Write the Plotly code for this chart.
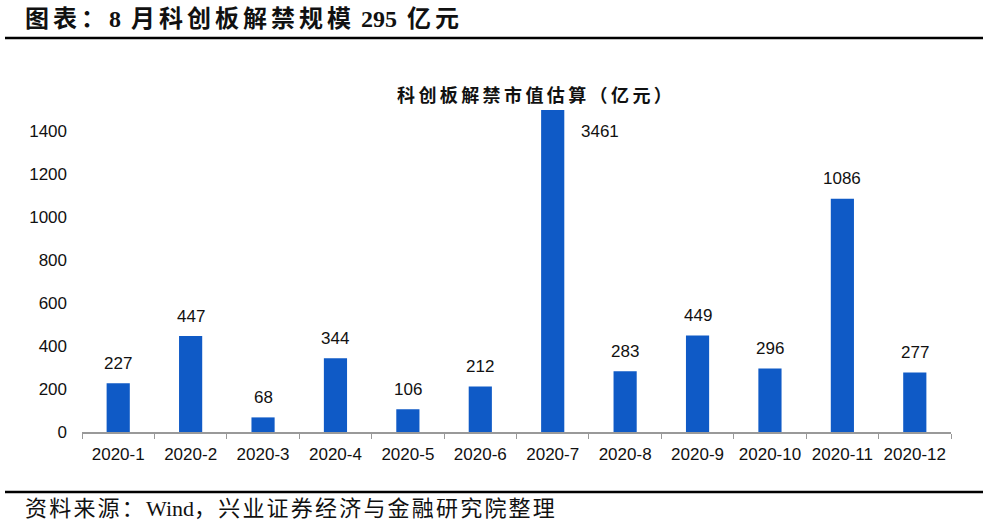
import plotly.graph_objects as go

categories = ["2020-1", "2020-2", "2020-3", "2020-4", "2020-5", "2020-6",
              "2020-7", "2020-8", "2020-9", "2020-10", "2020-11", "2020-12"]
values = [227, 447, 68, 344, 106, 212, 3461, 283, 449, 296, 1086, 277]
y_ticks = [0, 200, 400, 600, 800, 1000, 1200, 1400]
y_max = 1500

bar_color = "#0F5AC6"
serif = "Times New Roman, Liberation Serif, Noto Sans CJK SC"
sans = "Arial, Liberation Sans, Noto Sans CJK SC"
label_font = dict(family=sans, size=17, color="#111")
NB = "\u00a0"


def sp(txt, px):
    return f"<span style='letter-spacing:{px}px'>{txt}</span>"


fig = go.Figure(go.Bar(
    x=categories, y=values, marker_color=bar_color, marker_line_width=0,
    cliponaxis=True,
))

# value labels
for c, v in zip(categories, values):
    if v > y_max:
        fig.add_annotation(x=c, y=1400, text=str(v), showarrow=False,
                           xshift=47, font=label_font)
    else:
        fig.add_annotation(x=c, y=v, text=str(v), showarrow=False,
                           yanchor="middle", yshift=20, font=label_font)

fig.add_annotation(xref="paper", yref="paper", x=0.522, y=1.0, yshift=27,
                   text="<b>" + sp("科创板解禁市值估算（亿元）", 3.4) + "</b>",
                   showarrow=False, font=dict(family=serif, size=18, color="#111"))

header = ("<b>" + sp("图表：", 4) + "8" + sp(NB + "月科创板解禁规模", 4)
          + NB + "295" + sp(NB + "亿元", 4) + "</b>")
fig.add_annotation(xref="paper", yref="paper", x=(23 - 82) / 869, xanchor="left",
                   y=1.0, yshift=110 - 19, yanchor="middle",
                   text=header,
                   showarrow=False, font=dict(family=serif, size=24, color="#111"))

footer = sp("资料来源：", 2.2) + "Wind" + sp("，兴业证券经济与金融研究院整理", 2.2)
fig.add_annotation(xref="paper", yref="paper", x=(23 - 82) / 869, xanchor="left",
                   y=0.0, yshift=-(508 - 432), yanchor="middle",
                   text=footer,
                   showarrow=False, font=dict(family=serif, size=22, color="#111"))

plot_h = 524 - 110 - 92
x0 = (5 - 82) / 869
x1 = (983 - 82) / 869
fig.add_shape(type="line", xref="paper", yref="paper",
              x0=x0, x1=x1, y0=1 + (110 - 38) / plot_h, y1=1 + (110 - 38) / plot_h,
              line=dict(color="#000", width=2.5))
fig.add_shape(type="line", xref="paper", yref="paper",
              x0=x0, x1=x1, y0=-(492 - 432) / plot_h, y1=-(492 - 432) / plot_h,
              line=dict(color="#000", width=2.5))

fig.update_layout(
    width=993, height=524,
    margin=dict(l=82, r=42, t=110, b=92, pad=0),
    plot_bgcolor="white", paper_bgcolor="white",
    bargap=0.68, showlegend=False,
    xaxis=dict(type="category", showline=True, linecolor="#999", linewidth=1.5,
               ticks="outside", tickson="boundaries", ticklen=5, tickcolor="#999",
               ticklabelstandoff=6,
               tickfont=dict(family=sans, size=17, color="#111"), showgrid=False),
    yaxis=dict(range=[0, y_max], tickvals=y_ticks, showgrid=False, showline=False,
               zeroline=False, ticks="", ticklabelstandoff=14,
               tickfont=dict(family=sans, size=17, color="#111")),
)

fig.write_html("out.html")
